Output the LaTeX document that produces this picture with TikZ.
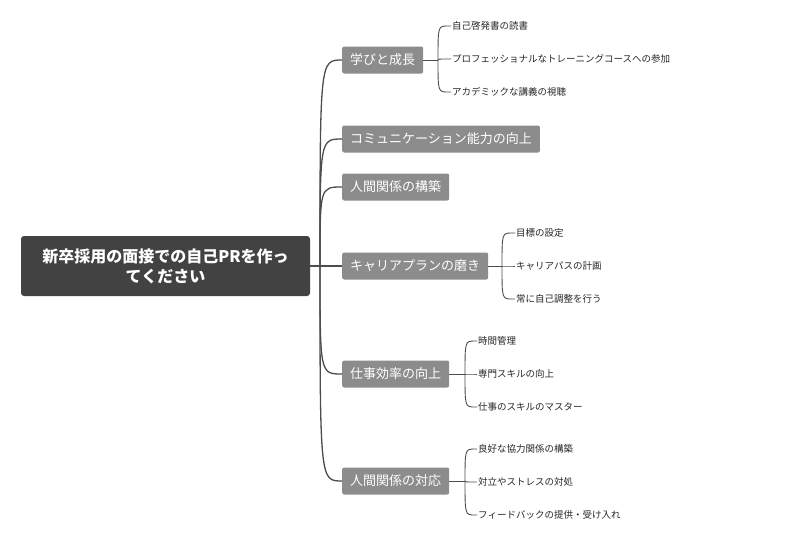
\documentclass[tikz,border=0pt]{standalone}
\usepackage{fontspec}
\setmainfont{Noto Sans CJK JP}
\begin{document}
\begin{tikzpicture}[x=1pt,y=-1pt,
  root/.style={fill=black!74,text=white,rounded corners=3pt,font=\fontsize{16}{20}\selectfont\bfseries,align=center,minimum width=289pt,minimum height=60pt,inner sep=2pt},
  br/.style={fill=black!45,text=white,rounded corners=2pt,font=\fontsize{13}{15}\selectfont,anchor=west,minimum height=27pt,inner xsep=8pt},
  lf/.style={font=\fontsize{9.5}{11}\selectfont,anchor=west,text=black!85,inner sep=1pt},
  ln/.style={draw=black!70,line width=1.3pt},
  ll/.style={draw=black!70,line width=0.9pt}]
\useasboundingbox (0,0) rectangle (800,538);
\node[root] (r) at (165.5,266) {新卒採用の面接での自己PRを作っ\\てください};
\node[br] (b1) at (342,60) {学びと成長};
\node[br] (b2) at (342,139) {コミュニケーション能力の向上};
\node[br] (b3) at (342,187) {人間関係の構築};
\node[br] (b4) at (342,266) {キャリアプランの磨き};
\node[br] (b5) at (342,374) {仕事効率の向上};
\node[br] (b6) at (342,481) {人間関係の対応};
\coordinate (s) at (320,266);
\draw[ln] (r.east) -- (s);
\foreach \b in {b1,b2,b3,b4,b5,b6}
  \draw[ln] (s) .. controls (s |- \b.west) and (s |- \b.west) .. (\b.west);
% leaves
\node[lf] (l11) at (451,26) {自己啓発書の読書};
\node[lf] (l12) at (451,59) {プロフェッショナルなトレーニングコースへの参加};
\node[lf] (l13) at (451,92) {アカデミックな講義の視聴};
\node[lf] (l41) at (515,233) {目標の設定};
\node[lf] (l42) at (515,266) {キャリアパスの計画};
\node[lf] (l43) at (515,299) {常に自己調整を行う};
\node[lf] (l51) at (477,341) {時間管理};
\node[lf] (l52) at (477,374) {専門スキルの向上};
\node[lf] (l53) at (477,407) {仕事のスキルのマスター};
\node[lf] (l61) at (477,449) {良好な協力関係の構築};
\node[lf] (l62) at (477,482) {対立やストレスの対処};
\node[lf] (l63) at (477,515) {フィードバックの提供・受け入れ};
\foreach \b/\x/\ls in {b1/438/{l11,l12,l13},b4/502/{l41,l42,l43},b5/465/{l51,l52,l53},b6/465/{l61,l62,l63}}{
  \coordinate (c) at (\x,0 |- \b.east);
  \draw[ll] (\b.east) -- (c);
  \foreach \l in \ls
    \draw[ll] (c) .. controls (c |- \l.west) and (c |- \l.west) .. ([xshift=10pt]c |- \l.west) -- (\l.west);
}
\end{tikzpicture}
\end{document}
